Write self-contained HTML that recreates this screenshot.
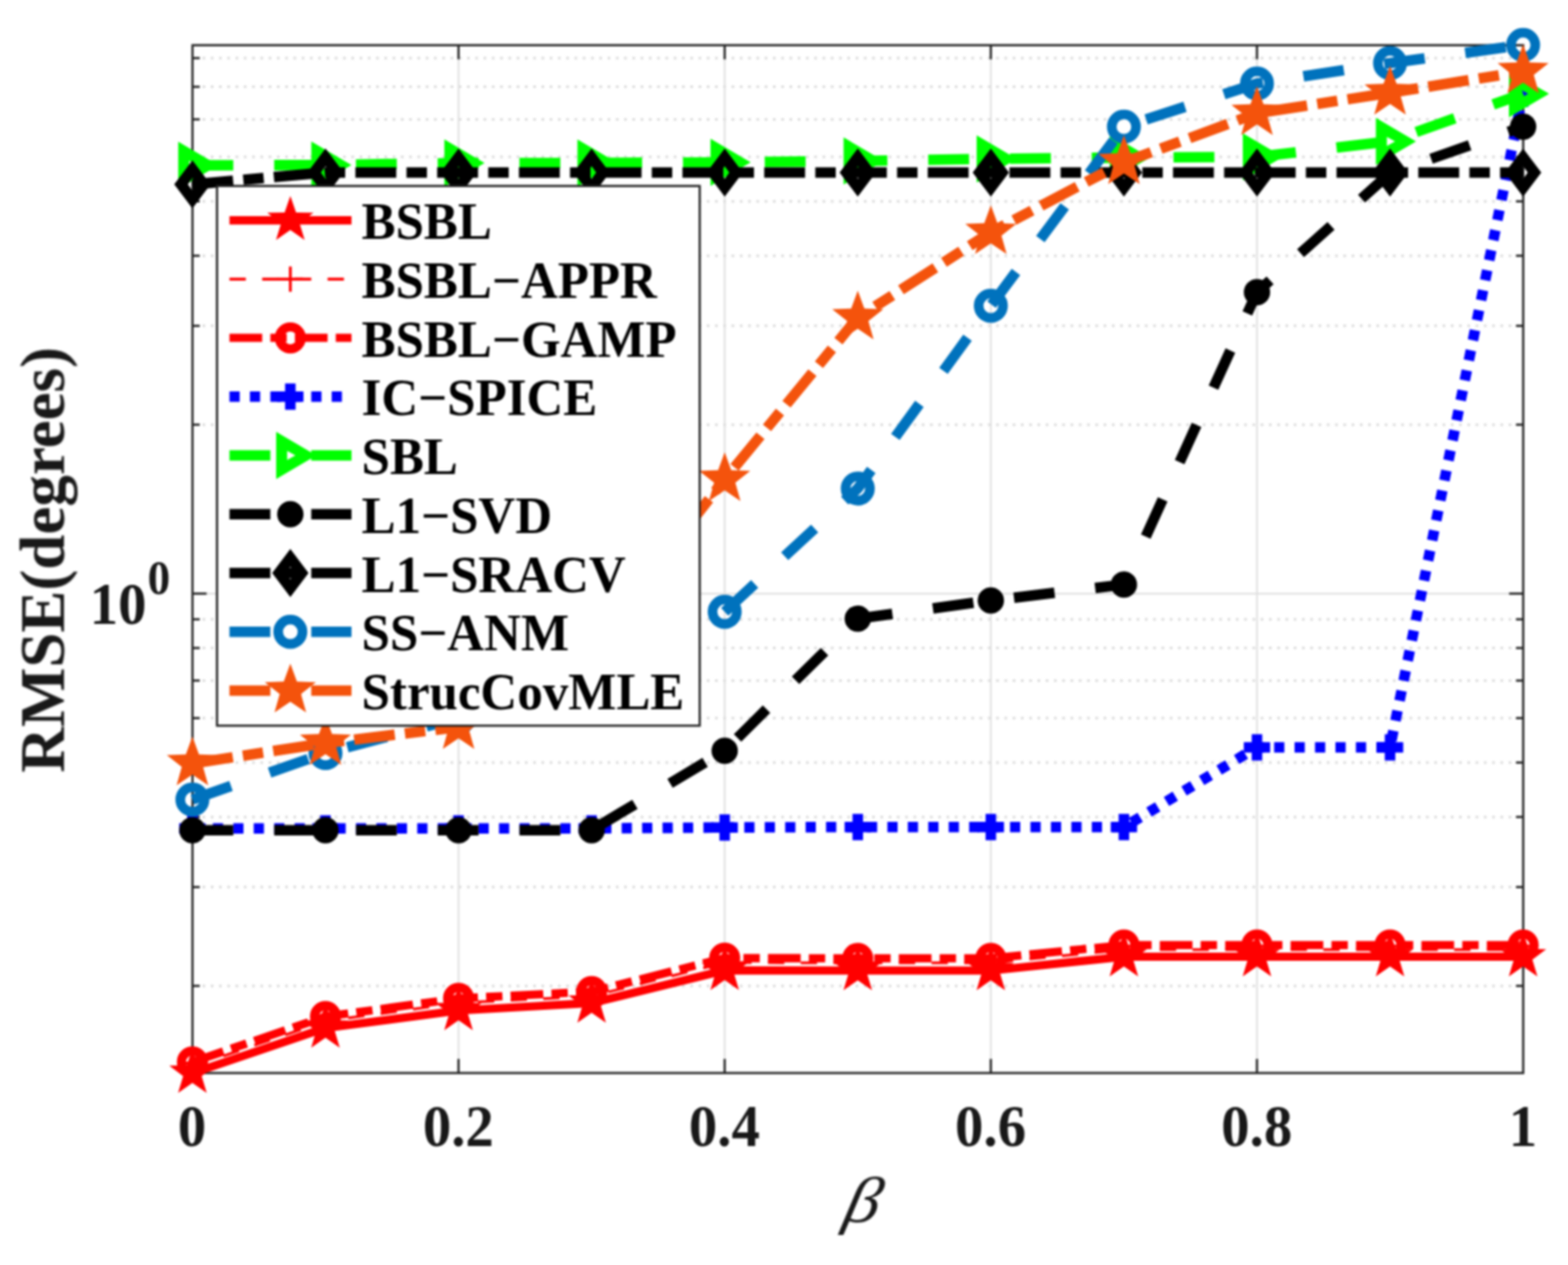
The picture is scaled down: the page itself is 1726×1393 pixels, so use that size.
<!DOCTYPE html>
<html lang="en"><head><meta charset="utf-8"><title>RMSE versus beta</title>
<style>
html,body{margin:0;padding:0;background:#ffffff;}
body{width:1726px;height:1393px;position:relative;overflow:hidden;font-family:"Liberation Serif",serif;}
</style></head><body>
<svg width="1726" height="1393" viewBox="0 0 1726 1393" style="position:absolute;left:0;top:0;display:block">
<defs><filter id="soft" filterUnits="userSpaceOnUse" x="0" y="0" width="1726" height="1393" color-interpolation-filters="sRGB"><feGaussianBlur stdDeviation="0.8"/></filter></defs>
<rect x="0" y="0" width="1726" height="1393" fill="#ffffff"/>
<g filter="url(#soft)">
<g stroke="#e0e0e0" stroke-width="2" fill="none">
<line x1="504.76" y1="49.80" x2="504.76" y2="1181.60"/>
<line x1="797.72" y1="49.80" x2="797.72" y2="1181.60"/>
<line x1="1090.68" y1="49.80" x2="1090.68" y2="1181.60"/>
<line x1="1383.64" y1="49.80" x2="1383.64" y2="1181.60"/>
<line x1="211.90" y1="653.70" x2="1676.70" y2="653.70"/>
</g>
<g stroke="#dedede" stroke-width="3" fill="none" stroke-dasharray="3 6.1">
<line x1="222.90" y1="1085.66" x2="1676.70" y2="1085.66"/>
<line x1="222.90" y1="976.84" x2="1676.70" y2="976.84"/>
<line x1="222.90" y1="899.63" x2="1676.70" y2="899.63"/>
<line x1="222.90" y1="839.74" x2="1676.70" y2="839.74"/>
<line x1="222.90" y1="790.80" x2="1676.70" y2="790.80"/>
<line x1="222.90" y1="749.43" x2="1676.70" y2="749.43"/>
<line x1="222.90" y1="713.59" x2="1676.70" y2="713.59"/>
<line x1="222.90" y1="681.98" x2="1676.70" y2="681.98"/>
<line x1="222.90" y1="467.66" x2="1676.70" y2="467.66"/>
<line x1="222.90" y1="358.84" x2="1676.70" y2="358.84"/>
<line x1="222.90" y1="281.63" x2="1676.70" y2="281.63"/>
<line x1="222.90" y1="221.74" x2="1676.70" y2="221.74"/>
<line x1="222.90" y1="172.80" x2="1676.70" y2="172.80"/>
<line x1="222.90" y1="131.43" x2="1676.70" y2="131.43"/>
<line x1="222.90" y1="95.59" x2="1676.70" y2="95.59"/>
<line x1="222.90" y1="63.98" x2="1676.70" y2="63.98"/>
</g>
<g stroke="#222222" stroke-width="2.4" fill="none">
<rect x="211.90" y="49.80" width="1464.80" height="1131.80"/>
<line x1="504.76" y1="49.80" x2="504.76" y2="65.30"/>
<line x1="504.76" y1="1181.60" x2="504.76" y2="1166.10"/>
<line x1="797.72" y1="49.80" x2="797.72" y2="65.30"/>
<line x1="797.72" y1="1181.60" x2="797.72" y2="1166.10"/>
<line x1="1090.68" y1="49.80" x2="1090.68" y2="65.30"/>
<line x1="1090.68" y1="1181.60" x2="1090.68" y2="1166.10"/>
<line x1="1383.64" y1="49.80" x2="1383.64" y2="65.30"/>
<line x1="1383.64" y1="1181.60" x2="1383.64" y2="1166.10"/>
<line x1="211.90" y1="653.70" x2="227.40" y2="653.70"/>
<line x1="1676.70" y1="653.70" x2="1661.20" y2="653.70"/>
<line x1="211.90" y1="1085.66" x2="219.90" y2="1085.66"/>
<line x1="1676.70" y1="1085.66" x2="1668.70" y2="1085.66"/>
<line x1="211.90" y1="976.84" x2="219.90" y2="976.84"/>
<line x1="1676.70" y1="976.84" x2="1668.70" y2="976.84"/>
<line x1="211.90" y1="899.63" x2="219.90" y2="899.63"/>
<line x1="1676.70" y1="899.63" x2="1668.70" y2="899.63"/>
<line x1="211.90" y1="839.74" x2="219.90" y2="839.74"/>
<line x1="1676.70" y1="839.74" x2="1668.70" y2="839.74"/>
<line x1="211.90" y1="790.80" x2="219.90" y2="790.80"/>
<line x1="1676.70" y1="790.80" x2="1668.70" y2="790.80"/>
<line x1="211.90" y1="749.43" x2="219.90" y2="749.43"/>
<line x1="1676.70" y1="749.43" x2="1668.70" y2="749.43"/>
<line x1="211.90" y1="713.59" x2="219.90" y2="713.59"/>
<line x1="1676.70" y1="713.59" x2="1668.70" y2="713.59"/>
<line x1="211.90" y1="681.98" x2="219.90" y2="681.98"/>
<line x1="1676.70" y1="681.98" x2="1668.70" y2="681.98"/>
<line x1="211.90" y1="467.66" x2="219.90" y2="467.66"/>
<line x1="1676.70" y1="467.66" x2="1668.70" y2="467.66"/>
<line x1="211.90" y1="358.84" x2="219.90" y2="358.84"/>
<line x1="1676.70" y1="358.84" x2="1668.70" y2="358.84"/>
<line x1="211.90" y1="281.63" x2="219.90" y2="281.63"/>
<line x1="1676.70" y1="281.63" x2="1668.70" y2="281.63"/>
<line x1="211.90" y1="221.74" x2="219.90" y2="221.74"/>
<line x1="1676.70" y1="221.74" x2="1668.70" y2="221.74"/>
<line x1="211.90" y1="172.80" x2="219.90" y2="172.80"/>
<line x1="1676.70" y1="172.80" x2="1668.70" y2="172.80"/>
<line x1="211.90" y1="131.43" x2="219.90" y2="131.43"/>
<line x1="1676.70" y1="131.43" x2="1668.70" y2="131.43"/>
<line x1="211.90" y1="95.59" x2="219.90" y2="95.59"/>
<line x1="1676.70" y1="95.59" x2="1668.70" y2="95.59"/>
<line x1="211.90" y1="63.98" x2="219.90" y2="63.98"/>
<line x1="1676.70" y1="63.98" x2="1668.70" y2="63.98"/>
</g>
<g font-family="'Liberation Serif', serif" font-weight="bold" fill="#181818" font-size="65.5" text-anchor="middle">
<text transform="translate(211.50,1261.8) scale(0.955,1)">0</text>
<text transform="translate(504.46,1261.8) scale(0.955,1)">0.2</text>
<text transform="translate(797.42,1261.8) scale(0.955,1)">0.4</text>
<text transform="translate(1090.38,1261.8) scale(0.955,1)">0.6</text>
<text transform="translate(1383.34,1261.8) scale(0.955,1)">0.8</text>
<text transform="translate(1676.30,1261.8) scale(0.955,1)">1</text>
</g>
<text transform="translate(161.3,686.6) scale(0.955,1)" font-family="'Liberation Serif', serif" font-weight="bold" fill="#181818" font-size="65.5" text-anchor="end">10</text>
<text transform="translate(162.6,654.4) scale(0.955,1)" font-family="'Liberation Serif', serif" font-weight="bold" fill="#181818" font-size="52" text-anchor="start">0</text>
<text transform="translate(70.4,616.4) rotate(-90)" font-family="'Liberation Serif', serif" font-weight="bold" fill="#181818" font-size="69.4" text-anchor="middle">RMSE(degrees)</text>
<text transform="translate(927.00,1345.00) skewX(-13) scale(1.06,0.97)" font-family="'Liberation Serif', serif" font-style="italic" fill="#181818" font-size="72">β</text>
<polyline points="211.80,1181.70 358.28,1132.00 504.76,1112.70 651.24,1104.50 797.72,1068.50 944.20,1068.70 1090.68,1068.70 1237.16,1053.50 1383.64,1053.50 1530.12,1053.50 1676.60,1053.50" fill="none" stroke="#ff0000" stroke-width="9.10" stroke-linejoin="miter"/>
<polygon points="211.80,1154.90 218.10,1173.03 237.29,1173.42 222.00,1185.01 227.55,1203.38 211.80,1192.42 196.05,1203.38 201.60,1185.01 186.31,1173.42 205.50,1173.03" fill="#ff0000"/>
<polygon points="358.28,1105.20 364.58,1123.33 383.77,1123.72 368.48,1135.31 374.03,1153.68 358.28,1142.72 342.53,1153.68 348.08,1135.31 332.79,1123.72 351.98,1123.33" fill="#ff0000"/>
<polygon points="504.76,1085.90 511.06,1104.03 530.25,1104.42 514.96,1116.01 520.51,1134.38 504.76,1123.42 489.01,1134.38 494.56,1116.01 479.27,1104.42 498.46,1104.03" fill="#ff0000"/>
<polygon points="651.24,1077.70 657.54,1095.83 676.73,1096.22 661.44,1107.81 666.99,1126.18 651.24,1115.22 635.49,1126.18 641.04,1107.81 625.75,1096.22 644.94,1095.83" fill="#ff0000"/>
<polygon points="797.72,1041.70 804.02,1059.83 823.21,1060.22 807.92,1071.81 813.47,1090.18 797.72,1079.22 781.97,1090.18 787.52,1071.81 772.23,1060.22 791.42,1059.83" fill="#ff0000"/>
<polygon points="944.20,1041.90 950.50,1060.03 969.69,1060.42 954.40,1072.01 959.95,1090.38 944.20,1079.42 928.45,1090.38 934.00,1072.01 918.71,1060.42 937.90,1060.03" fill="#ff0000"/>
<polygon points="1090.68,1041.90 1096.98,1060.03 1116.17,1060.42 1100.88,1072.01 1106.43,1090.38 1090.68,1079.42 1074.93,1090.38 1080.48,1072.01 1065.19,1060.42 1084.38,1060.03" fill="#ff0000"/>
<polygon points="1237.16,1026.70 1243.46,1044.83 1262.65,1045.22 1247.36,1056.81 1252.91,1075.18 1237.16,1064.22 1221.41,1075.18 1226.96,1056.81 1211.67,1045.22 1230.86,1044.83" fill="#ff0000"/>
<polygon points="1383.64,1026.70 1389.94,1044.83 1409.13,1045.22 1393.84,1056.81 1399.39,1075.18 1383.64,1064.22 1367.89,1075.18 1373.44,1056.81 1358.15,1045.22 1377.34,1044.83" fill="#ff0000"/>
<polygon points="1530.12,1026.70 1536.42,1044.83 1555.61,1045.22 1540.32,1056.81 1545.87,1075.18 1530.12,1064.22 1514.37,1075.18 1519.92,1056.81 1504.63,1045.22 1523.82,1044.83" fill="#ff0000"/>
<polygon points="1676.60,1026.70 1682.90,1044.83 1702.09,1045.22 1686.80,1056.81 1692.35,1075.18 1676.60,1064.22 1660.85,1075.18 1666.40,1056.81 1651.11,1045.22 1670.30,1044.83" fill="#ff0000"/>
<polyline points="211.80,1174.45 358.28,1124.45 504.76,1104.45 651.24,1096.95 797.72,1060.00 944.20,1060.30 1090.68,1060.30 1237.16,1045.70 1383.64,1045.70 1530.12,1045.70 1676.60,1045.70" fill="none" stroke="#ff0000" stroke-width="3.00" stroke-linejoin="miter" stroke-dasharray="18 18"/>
<path d="M198.05 1170.45H225.55M211.80 1156.70V1184.20" stroke="#ff0000" stroke-width="3.00" fill="none"/>
<path d="M344.53 1120.45H372.03M358.28 1106.70V1134.20" stroke="#ff0000" stroke-width="3.00" fill="none"/>
<path d="M491.01 1100.45H518.51M504.76 1086.70V1114.20" stroke="#ff0000" stroke-width="3.00" fill="none"/>
<path d="M637.49 1092.95H664.99M651.24 1079.20V1106.70" stroke="#ff0000" stroke-width="3.00" fill="none"/>
<path d="M783.97 1056.00H811.47M797.72 1042.25V1069.75" stroke="#ff0000" stroke-width="3.00" fill="none"/>
<path d="M930.45 1056.30H957.95M944.20 1042.55V1070.05" stroke="#ff0000" stroke-width="3.00" fill="none"/>
<path d="M1076.93 1056.30H1104.43M1090.68 1042.55V1070.05" stroke="#ff0000" stroke-width="3.00" fill="none"/>
<path d="M1223.41 1041.70H1250.91M1237.16 1027.95V1055.45" stroke="#ff0000" stroke-width="3.00" fill="none"/>
<path d="M1369.89 1041.70H1397.39M1383.64 1027.95V1055.45" stroke="#ff0000" stroke-width="3.00" fill="none"/>
<path d="M1516.37 1041.70H1543.87M1530.12 1027.95V1055.45" stroke="#ff0000" stroke-width="3.00" fill="none"/>
<path d="M1662.85 1041.70H1690.35M1676.60 1027.95V1055.45" stroke="#ff0000" stroke-width="3.00" fill="none"/>
<polyline points="211.80,1169.45 358.28,1119.45 504.76,1099.45 651.24,1091.95 797.72,1055.00 944.20,1055.30 1090.68,1055.30 1237.16,1040.70 1383.64,1040.70 1530.12,1040.70 1676.60,1040.70" fill="none" stroke="#ff0000" stroke-width="9.10" stroke-linejoin="miter" stroke-dasharray="36.00 9.00 18.00 9.00"/>
<circle cx="211.80" cy="1169.45" r="12.10" fill="none" stroke="#ff0000" stroke-width="10.00"/>
<circle cx="358.28" cy="1119.45" r="12.10" fill="none" stroke="#ff0000" stroke-width="10.00"/>
<circle cx="504.76" cy="1099.45" r="12.10" fill="none" stroke="#ff0000" stroke-width="10.00"/>
<circle cx="651.24" cy="1091.95" r="12.10" fill="none" stroke="#ff0000" stroke-width="10.00"/>
<circle cx="797.72" cy="1055.00" r="12.10" fill="none" stroke="#ff0000" stroke-width="10.00"/>
<circle cx="944.20" cy="1055.30" r="12.10" fill="none" stroke="#ff0000" stroke-width="10.00"/>
<circle cx="1090.68" cy="1055.30" r="12.10" fill="none" stroke="#ff0000" stroke-width="10.00"/>
<circle cx="1237.16" cy="1040.70" r="12.10" fill="none" stroke="#ff0000" stroke-width="10.00"/>
<circle cx="1383.64" cy="1040.70" r="12.10" fill="none" stroke="#ff0000" stroke-width="10.00"/>
<circle cx="1530.12" cy="1040.70" r="12.10" fill="none" stroke="#ff0000" stroke-width="10.00"/>
<circle cx="1676.60" cy="1040.70" r="12.10" fill="none" stroke="#ff0000" stroke-width="10.00"/>
<polyline points="211.80,912.20 358.28,912.20 504.76,912.20 651.24,912.20 797.72,911.20 944.20,910.70 1090.68,910.70 1237.16,910.70 1383.64,822.95 1530.12,822.95 1676.60,103.20" fill="none" stroke="#0000ff" stroke-width="11.60" stroke-linejoin="miter" stroke-dasharray="11.25 11.25"/>
<path d="M197.30 912.20H226.30M211.80 897.70V926.70" stroke="#0000ff" stroke-width="11.60" fill="none"/>
<path d="M343.78 912.20H372.78M358.28 897.70V926.70" stroke="#0000ff" stroke-width="11.60" fill="none"/>
<path d="M490.26 912.20H519.26M504.76 897.70V926.70" stroke="#0000ff" stroke-width="11.60" fill="none"/>
<path d="M636.74 912.20H665.74M651.24 897.70V926.70" stroke="#0000ff" stroke-width="11.60" fill="none"/>
<path d="M783.22 911.20H812.22M797.72 896.70V925.70" stroke="#0000ff" stroke-width="11.60" fill="none"/>
<path d="M929.70 910.70H958.70M944.20 896.20V925.20" stroke="#0000ff" stroke-width="11.60" fill="none"/>
<path d="M1076.18 910.70H1105.18M1090.68 896.20V925.20" stroke="#0000ff" stroke-width="11.60" fill="none"/>
<path d="M1222.66 910.70H1251.66M1237.16 896.20V925.20" stroke="#0000ff" stroke-width="11.60" fill="none"/>
<path d="M1369.14 822.95H1398.14M1383.64 808.45V837.45" stroke="#0000ff" stroke-width="11.60" fill="none"/>
<path d="M1515.62 822.95H1544.62M1530.12 808.45V837.45" stroke="#0000ff" stroke-width="11.60" fill="none"/>
<path d="M1662.10 103.20H1691.10M1676.60 88.70V117.70" stroke="#0000ff" stroke-width="11.60" fill="none"/>
<polyline points="211.80,182.10 358.28,181.70 504.76,179.60 651.24,179.45 797.72,178.70 944.20,177.30 1090.68,174.90 1237.16,173.60 1383.64,172.70 1530.12,155.70 1676.60,103.20" fill="none" stroke="#00ff00" stroke-width="11.60" stroke-linejoin="miter" stroke-dasharray="45.00 45.00"/>
<path d="M196.20 156.10L240.40 182.10L196.20 208.10Z M208.30 177.10L217.30 182.10L208.30 187.10Z" fill="#00ff00" fill-rule="evenodd"/>
<path d="M342.68 155.70L386.88 181.70L342.68 207.70Z M354.78 176.70L363.78 181.70L354.78 186.70Z" fill="#00ff00" fill-rule="evenodd"/>
<path d="M489.16 153.60L533.36 179.60L489.16 205.60Z M501.26 174.60L510.26 179.60L501.26 184.60Z" fill="#00ff00" fill-rule="evenodd"/>
<path d="M635.64 153.45L679.84 179.45L635.64 205.45Z M647.74 174.45L656.74 179.45L647.74 184.45Z" fill="#00ff00" fill-rule="evenodd"/>
<path d="M782.12 152.70L826.32 178.70L782.12 204.70Z M794.22 173.70L803.22 178.70L794.22 183.70Z" fill="#00ff00" fill-rule="evenodd"/>
<path d="M928.60 151.30L972.80 177.30L928.60 203.30Z M940.70 172.30L949.70 177.30L940.70 182.30Z" fill="#00ff00" fill-rule="evenodd"/>
<path d="M1075.08 148.90L1119.28 174.90L1075.08 200.90Z M1087.18 169.90L1096.18 174.90L1087.18 179.90Z" fill="#00ff00" fill-rule="evenodd"/>
<path d="M1221.56 147.60L1265.76 173.60L1221.56 199.60Z M1233.66 168.60L1242.66 173.60L1233.66 178.60Z" fill="#00ff00" fill-rule="evenodd"/>
<path d="M1368.04 146.70L1412.24 172.70L1368.04 198.70Z M1380.14 167.70L1389.14 172.70L1380.14 177.70Z" fill="#00ff00" fill-rule="evenodd"/>
<path d="M1514.52 129.70L1558.72 155.70L1514.52 181.70Z M1526.62 150.70L1535.62 155.70L1526.62 160.70Z" fill="#00ff00" fill-rule="evenodd"/>
<path d="M1661.00 77.20L1705.20 103.20L1661.00 129.20Z M1673.10 98.20L1682.10 103.20L1673.10 108.20Z" fill="#00ff00" fill-rule="evenodd"/>
<polyline points="211.80,914.20 358.28,914.20 504.76,914.20 651.24,914.20 797.72,826.70 944.20,681.20 1090.68,661.20 1237.16,643.70 1383.64,321.70 1530.12,190.70 1676.60,139.45" fill="none" stroke="#000000" stroke-width="11.60" stroke-linejoin="miter" stroke-dasharray="45.00 45.00"/>
<circle cx="211.80" cy="914.20" r="14.50" fill="#000000"/>
<circle cx="358.28" cy="914.20" r="14.50" fill="#000000"/>
<circle cx="504.76" cy="914.20" r="14.50" fill="#000000"/>
<circle cx="651.24" cy="914.20" r="14.50" fill="#000000"/>
<circle cx="797.72" cy="826.70" r="14.50" fill="#000000"/>
<circle cx="944.20" cy="681.20" r="14.50" fill="#000000"/>
<circle cx="1090.68" cy="661.20" r="14.50" fill="#000000"/>
<circle cx="1237.16" cy="643.70" r="14.50" fill="#000000"/>
<circle cx="1383.64" cy="321.70" r="14.50" fill="#000000"/>
<circle cx="1530.12" cy="190.70" r="14.50" fill="#000000"/>
<circle cx="1676.60" cy="139.45" r="14.50" fill="#000000"/>
<polyline points="211.80,203.10 358.28,190.00 504.76,189.95 651.24,189.95 797.72,189.95 944.20,189.95 1090.68,189.95 1237.16,189.95 1383.64,189.95 1530.12,189.95 1676.60,189.95" fill="none" stroke="#000000" stroke-width="11.60" stroke-linejoin="miter" stroke-dasharray="45 11.25 22.5 11.25"/>
<path d="M211.80 176.60L231.80 203.10L211.80 229.60L191.80 203.10Z M211.80 196.10L216.80 203.10L211.80 210.10L206.80 203.10Z" fill="#000000" fill-rule="evenodd"/>
<path d="M358.28 163.50L378.28 190.00L358.28 216.50L338.28 190.00Z M358.28 183.00L363.28 190.00L358.28 197.00L353.28 190.00Z" fill="#000000" fill-rule="evenodd"/>
<path d="M504.76 163.45L524.76 189.95L504.76 216.45L484.76 189.95Z M504.76 182.95L509.76 189.95L504.76 196.95L499.76 189.95Z" fill="#000000" fill-rule="evenodd"/>
<path d="M651.24 163.45L671.24 189.95L651.24 216.45L631.24 189.95Z M651.24 182.95L656.24 189.95L651.24 196.95L646.24 189.95Z" fill="#000000" fill-rule="evenodd"/>
<path d="M797.72 163.45L817.72 189.95L797.72 216.45L777.72 189.95Z M797.72 182.95L802.72 189.95L797.72 196.95L792.72 189.95Z" fill="#000000" fill-rule="evenodd"/>
<path d="M944.20 163.45L964.20 189.95L944.20 216.45L924.20 189.95Z M944.20 182.95L949.20 189.95L944.20 196.95L939.20 189.95Z" fill="#000000" fill-rule="evenodd"/>
<path d="M1090.68 163.45L1110.68 189.95L1090.68 216.45L1070.68 189.95Z M1090.68 182.95L1095.68 189.95L1090.68 196.95L1085.68 189.95Z" fill="#000000" fill-rule="evenodd"/>
<path d="M1237.16 163.45L1257.16 189.95L1237.16 216.45L1217.16 189.95Z M1237.16 182.95L1242.16 189.95L1237.16 196.95L1232.16 189.95Z" fill="#000000" fill-rule="evenodd"/>
<path d="M1383.64 163.45L1403.64 189.95L1383.64 216.45L1363.64 189.95Z M1383.64 182.95L1388.64 189.95L1383.64 196.95L1378.64 189.95Z" fill="#000000" fill-rule="evenodd"/>
<path d="M1530.12 163.45L1550.12 189.95L1530.12 216.45L1510.12 189.95Z M1530.12 182.95L1535.12 189.95L1530.12 196.95L1525.12 189.95Z" fill="#000000" fill-rule="evenodd"/>
<path d="M1676.60 163.45L1696.60 189.95L1676.60 216.45L1656.60 189.95Z M1676.60 182.95L1681.60 189.95L1676.60 196.95L1671.60 189.95Z" fill="#000000" fill-rule="evenodd"/>
<polyline points="211.80,880.45 358.28,829.20 504.76,790.70 651.24,770.25 797.72,673.70 944.20,537.95 1090.68,336.70 1237.16,139.45 1383.64,91.95 1530.12,69.45 1676.60,49.45" fill="none" stroke="#0072bd" stroke-width="11.60" stroke-linejoin="miter" stroke-dasharray="45.00 45.00"/>
<circle cx="211.80" cy="880.45" r="13.40" fill="none" stroke="#0072bd" stroke-width="10.60"/>
<circle cx="358.28" cy="829.20" r="13.40" fill="none" stroke="#0072bd" stroke-width="10.60"/>
<circle cx="504.76" cy="790.70" r="13.40" fill="none" stroke="#0072bd" stroke-width="10.60"/>
<circle cx="651.24" cy="770.25" r="13.40" fill="none" stroke="#0072bd" stroke-width="10.60"/>
<circle cx="797.72" cy="673.70" r="13.40" fill="none" stroke="#0072bd" stroke-width="10.60"/>
<circle cx="944.20" cy="537.95" r="13.40" fill="none" stroke="#0072bd" stroke-width="10.60"/>
<circle cx="1090.68" cy="336.70" r="13.40" fill="none" stroke="#0072bd" stroke-width="10.60"/>
<circle cx="1237.16" cy="139.45" r="13.40" fill="none" stroke="#0072bd" stroke-width="10.60"/>
<circle cx="1383.64" cy="91.95" r="13.40" fill="none" stroke="#0072bd" stroke-width="10.60"/>
<circle cx="1530.12" cy="69.45" r="13.40" fill="none" stroke="#0072bd" stroke-width="10.60"/>
<circle cx="1676.60" cy="49.45" r="13.40" fill="none" stroke="#0072bd" stroke-width="10.60"/>
<polyline points="211.80,840.70 358.28,818.20 504.76,800.70 651.24,714.25 797.72,527.70 944.20,349.70 1090.68,255.70 1237.16,178.70 1383.64,124.70 1530.12,102.20 1676.60,78.70" fill="none" stroke="#f4530c" stroke-width="11.60" stroke-linejoin="miter" stroke-dasharray="45 11.25 22.5 11.25"/>
<polygon points="211.80,811.10 219.03,830.75 239.95,831.55 223.50,844.50 229.20,864.65 211.80,853.00 194.40,864.65 200.10,844.50 183.65,831.55 204.57,830.75" fill="#f4530c"/>
<polygon points="358.28,788.60 365.51,808.25 386.43,809.05 369.98,822.00 375.68,842.15 358.28,830.50 340.88,842.15 346.58,822.00 330.13,809.05 351.05,808.25" fill="#f4530c"/>
<polygon points="504.76,771.10 511.99,790.75 532.91,791.55 516.46,804.50 522.16,824.65 504.76,813.00 487.36,824.65 493.06,804.50 476.61,791.55 497.53,790.75" fill="#f4530c"/>
<polygon points="651.24,684.65 658.47,704.30 679.39,705.10 662.94,718.05 668.64,738.20 651.24,726.55 633.84,738.20 639.54,718.05 623.09,705.10 644.01,704.30" fill="#f4530c"/>
<polygon points="797.72,498.10 804.95,517.75 825.87,518.55 809.42,531.50 815.12,551.65 797.72,540.00 780.32,551.65 786.02,531.50 769.57,518.55 790.49,517.75" fill="#f4530c"/>
<polygon points="944.20,320.10 951.43,339.75 972.35,340.55 955.90,353.50 961.60,373.65 944.20,362.00 926.80,373.65 932.50,353.50 916.05,340.55 936.97,339.75" fill="#f4530c"/>
<polygon points="1090.68,226.10 1097.91,245.75 1118.83,246.55 1102.38,259.50 1108.08,279.65 1090.68,268.00 1073.28,279.65 1078.98,259.50 1062.53,246.55 1083.45,245.75" fill="#f4530c"/>
<polygon points="1237.16,149.10 1244.39,168.75 1265.31,169.55 1248.86,182.50 1254.56,202.65 1237.16,191.00 1219.76,202.65 1225.46,182.50 1209.01,169.55 1229.93,168.75" fill="#f4530c"/>
<polygon points="1383.64,95.10 1390.87,114.75 1411.79,115.55 1395.34,128.50 1401.04,148.65 1383.64,137.00 1366.24,148.65 1371.94,128.50 1355.49,115.55 1376.41,114.75" fill="#f4530c"/>
<polygon points="1530.12,72.60 1537.35,92.25 1558.27,93.05 1541.82,106.00 1547.52,126.15 1530.12,114.50 1512.72,126.15 1518.42,106.00 1501.97,93.05 1522.89,92.25" fill="#f4530c"/>
<polygon points="1676.60,49.10 1683.83,68.75 1704.75,69.55 1688.30,82.50 1694.00,102.65 1676.60,91.00 1659.20,102.65 1664.90,82.50 1648.45,69.55 1669.37,68.75" fill="#f4530c"/>
<rect x="238.90" y="204.80" width="531.30" height="594.30" fill="#ffffff" stroke="#222222" stroke-width="2.4"/>
<line x1="252.60" y1="242.60" x2="386.90" y2="242.60" stroke="#ff0000" stroke-width="9.10"/>
<polygon points="319.60,215.80 325.90,233.93 345.09,234.32 329.80,245.91 335.35,264.28 319.60,253.32 303.85,264.28 309.40,245.91 294.11,234.32 313.30,233.93" fill="#ff0000"/>
<line x1="252.60" y1="307.33" x2="386.90" y2="307.33" stroke="#ff0000" stroke-width="3.10" stroke-dasharray="18 18"/>
<path d="M305.70 307.33H333.50M319.60 293.43V321.23" stroke="#ff0000" stroke-width="3.10" fill="none"/>
<line x1="252.60" y1="372.06" x2="386.90" y2="372.06" stroke="#ff0000" stroke-width="9.10" stroke-dasharray="36.00 9.00 18.00 9.00"/>
<circle cx="319.60" cy="372.06" r="12.10" fill="none" stroke="#ff0000" stroke-width="10.00"/>
<line x1="252.60" y1="436.79" x2="386.90" y2="436.79" stroke="#0000ff" stroke-width="11.60" stroke-dasharray="11.25 11.25"/>
<path d="M305.10 436.79H334.10M319.60 422.29V451.29" stroke="#0000ff" stroke-width="11.60" fill="none"/>
<line x1="252.60" y1="501.52" x2="386.90" y2="501.52" stroke="#00ff00" stroke-width="11.60" stroke-dasharray="45.00 45.00"/>
<path d="M304.00 475.52L348.20 501.52L304.00 527.52Z M316.10 496.52L325.10 501.52L316.10 506.52Z" fill="#00ff00" fill-rule="evenodd"/>
<line x1="252.60" y1="566.25" x2="386.90" y2="566.25" stroke="#000000" stroke-width="11.60" stroke-dasharray="45.00 45.00"/>
<circle cx="319.60" cy="566.25" r="14.50" fill="#000000"/>
<line x1="252.60" y1="630.98" x2="386.90" y2="630.98" stroke="#000000" stroke-width="11.60" stroke-dasharray="45 11.25 22.5 11.25"/>
<path d="M319.60 604.48L339.60 630.98L319.60 657.48L299.60 630.98Z M319.60 623.98L324.60 630.98L319.60 637.98L314.60 630.98Z" fill="#000000" fill-rule="evenodd"/>
<line x1="252.60" y1="695.71" x2="386.90" y2="695.71" stroke="#0072bd" stroke-width="11.60" stroke-dasharray="45.00 45.00"/>
<circle cx="319.60" cy="695.71" r="13.40" fill="none" stroke="#0072bd" stroke-width="10.60"/>
<line x1="252.60" y1="760.44" x2="386.90" y2="760.44" stroke="#f4530c" stroke-width="11.60" stroke-dasharray="45 11.25 22.5 11.25"/>
<polygon points="319.60,730.84 326.83,750.49 347.75,751.29 331.30,764.24 337.00,784.39 319.60,772.74 302.20,784.39 307.90,764.24 291.45,751.29 312.37,750.49" fill="#f4530c"/>
<g font-family="'Liberation Serif', serif" font-weight="bold" fill="#000000" font-size="56.1" text-anchor="start">
<text x="398" y="263.20">BSBL</text>
<text x="398" y="327.93">BSBL−APPR</text>
<text x="398" y="392.66">BSBL−GAMP</text>
<text x="398" y="457.39">IC−SPICE</text>
<text x="398" y="522.12">SBL</text>
<text x="398" y="586.85">L1−SVD</text>
<text x="398" y="651.58">L1−SRACV</text>
<text x="398" y="716.31">SS−ANM</text>
<text x="398" y="781.04">StrucCovMLE</text>
</g>
</g>
</svg>
</body></html>
